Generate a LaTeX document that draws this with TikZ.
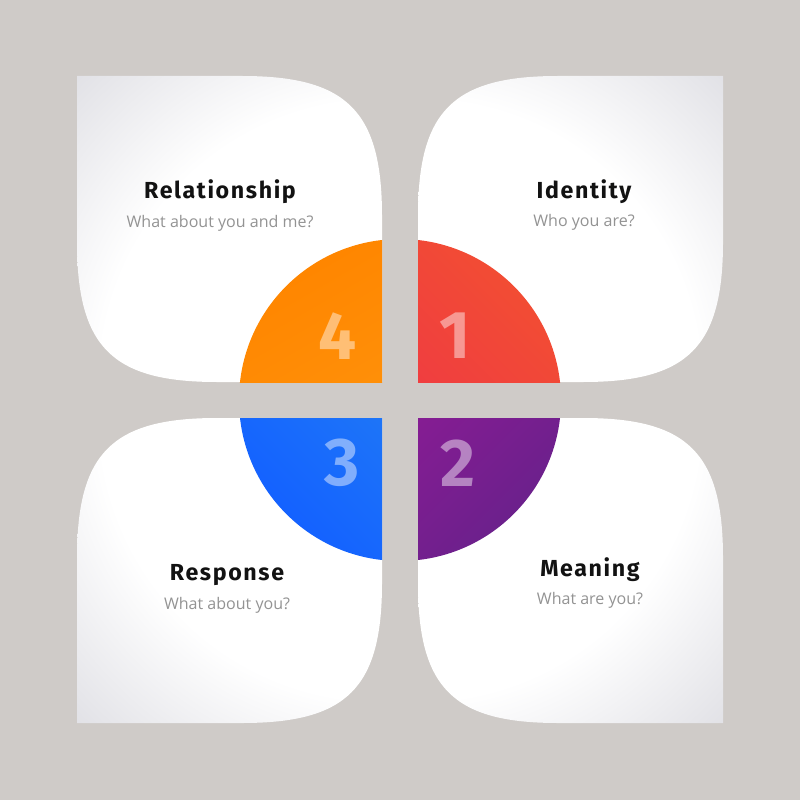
\documentclass[tikz,border=0pt]{standalone}
\usepackage{fontspec}
\setmainfont{Fira Sans}
\newfontfamily\subfont{Open Sans}
\definecolor{bggray}{HTML}{CFCBC8}
\definecolor{panelgray}{HTML}{E0E0E5}
\definecolor{orangeA}{HTML}{FF8600}
\definecolor{orangeB}{HTML}{FF9C14}
\definecolor{redA}{HTML}{F24C34}
\definecolor{redB}{HTML}{EC2A50}
\definecolor{blueA}{HTML}{2A8EEE}
\definecolor{blueB}{HTML}{1462FF}
\definecolor{purpleA}{HTML}{A8189C}
\definecolor{purpleB}{HTML}{6C208C}
\definecolor{subgray}{HTML}{939393}
\pgfdeclareradialshading{panelfade}{\pgfpoint{0bp}{0bp}}{color(0bp)=(white); color(16bp)=(white); color(25bp)=(panelgray); color(50bp)=(panelgray)}
\tikzset{
    title/.style={font=\fontsize{16.5}{19}\selectfont\bfseries\addfontfeatures{LetterSpace=7}, text=black!93},
    subtitle/.style={font=\subfont\fontsize{11.4}{14}\selectfont, text=subgray},
    number/.style={font=\fontsize{48}{48}\selectfont\bfseries, text=white, text opacity=0.45},
    panelshade/.style={shading=panelfade}
}
\begin{document}
\begin{tikzpicture}[x=0.025cm, y=-0.025cm]
    % Background
    \fill[bggray] (0,0) rectangle (800,800);
    \useasboundingbox (0,0) rectangle (800,800);

    % Draw panels
    \begin{scope}
        \clip (77,76) -- (242,76) .. controls (347,76) and (382,111) .. (382,216)
            -- (382,382) -- (217,382) .. controls (112,382) and (77,347) .. (77,242) -- cycle;
        \shade[panelshade] (382,382) circle [radius=440];
    \end{scope}
    \begin{scope}
        \clip (418,382) -- (418,216) .. controls (418,111) and (453,76) .. (558,76)
            -- (723,76) -- (723,242) .. controls (723,347) and (688,382) .. (583,382) -- cycle;
        \shade[panelshade] (418,382) circle [radius=440];
    \end{scope}
    \begin{scope}
        \clip (77,723) -- (77,558) .. controls (77,453) and (112,418) .. (217,418)
            -- (382,418) -- (382,583) .. controls (382,688) and (347,723) .. (242,723) -- cycle;
        \shade[panelshade] (382,418) circle [radius=440];
    \end{scope}
    \begin{scope}
        \clip (418,418) -- (583,418) .. controls (688,418) and (723,453) .. (723,558)
            -- (723,723) -- (558,723) .. controls (453,723) and (418,688) .. (418,583) -- cycle;
        \shade[panelshade] (418,418) circle [radius=440];
    \end{scope}

    % Draw quadrants
    \begin{scope}
        \clip (0,0) rectangle (382,382);
        \shade[top color=orangeA, bottom color=orangeB, shading angle=30] (400,400) circle [radius=161];
    \end{scope}
    \begin{scope}
        \clip (418,0) rectangle (800,382);
        \shade[top color=redA, bottom color=redB, shading angle=-45] (400,400) circle [radius=161];
    \end{scope}
    \begin{scope}
        \clip (0,418) rectangle (382,800);
        \shade[top color=blueA, bottom color=blueB, shading angle=-45] (400,400) circle [radius=161];
    \end{scope}
    \begin{scope}
        \clip (418,418) rectangle (800,800);
        \shade[top color=purpleA, bottom color=purpleB, shading angle=45] (400,400) circle [radius=161];
    \end{scope}

    % Draw numbers
    \node[number] (n4) at (338,336) {4};
    \node[number] (n1) at (455,336) {1};
    \node[number] (n3) at (342,463) {3};
    \node[number] (n2) at (458,463) {2};

    % Draw labels
    \node[title] (relationship) at (220,192) {Relationship};
    \node[subtitle] (relationshipq) at (220,223) {What about you and me?};
    \node[title] (identity) at (584,192) {Identity};
    \node[subtitle] (identityq) at (584,222) {Who you are?};
    \node[title] (response) at (227,575) {Response};
    \node[subtitle] (responseq) at (227,605) {What about you?};
    \node[title] (meaning) at (590,570) {Meaning};
    \node[subtitle] (meaningq) at (590,600) {What are you?};
\end{tikzpicture}
\end{document}
